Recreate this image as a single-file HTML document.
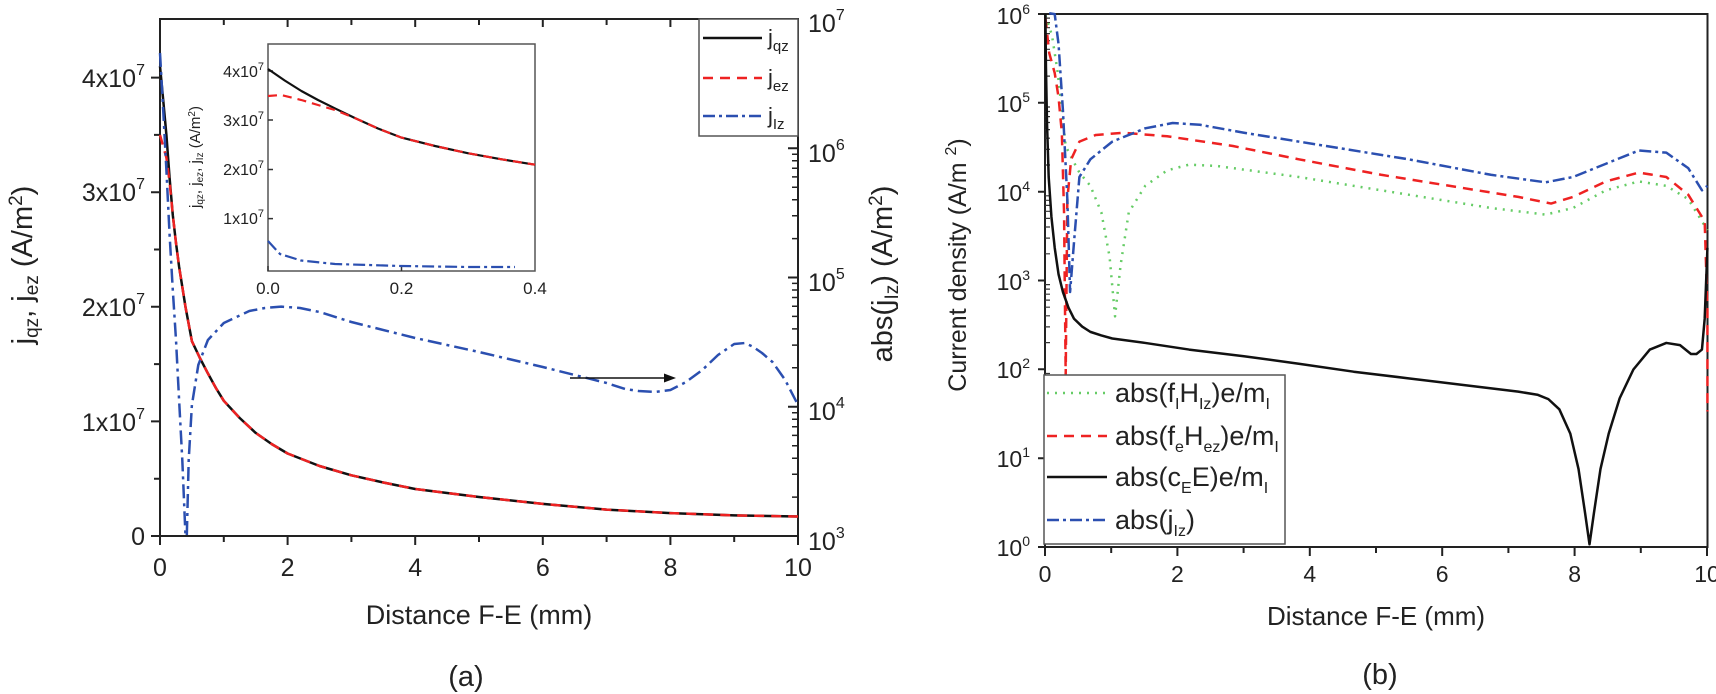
<!DOCTYPE html>
<html><head><meta charset="utf-8"><style>
html,body{margin:0;padding:0;background:#fff;}
svg{display:block;font-family:"Liberation Sans",sans-serif;}
</style></head><body>
<svg width="1716" height="694" viewBox="0 0 1716 694" xmlns="http://www.w3.org/2000/svg">
<!-- ===== LEFT PLOT ===== -->
<g fill="none" stroke="#222" stroke-width="2">
<rect x="160" y="19" width="638" height="517"/>
<path d="M160,536v9M287.6,536v9M415.2,536v9M542.8,536v9M670.4,536v9M798,536v9M223.8,536v6M351.4,536v6M479,536v6M606.6,536v6M734.2,536v6"/>
<path d="M223.8,19v6M351.4,19v6M479,19v6M606.6,19v6M734.2,19v6M287.6,19v8M415.2,19v8M542.8,19v8M670.4,19v8"/>
<path d="M160,536h-9M160,421.4h-9M160,306.8h-9M160,192.2h-9M160,77.6h-9M160,478.7h-6M160,364.1h-6M160,249.5h-6M160,134.9h-6"/>
<path d="M798,536h-10M798,406.75h-10M798,277.5h-10M798,148.25h-10M798,19h-10"/>
<path stroke-width="1.5" d="M798,497.1h-6M798,474.3h-6M798,458.2h-6M798,445.7h-6M798,435.4h-6M798,426.8h-6M798,419.3h-6M798,412.7h-6
M798,367.8h-6M798,345.1h-6M798,328.9h-6M798,316.4h-6M798,306.2h-6M798,297.5h-6M798,290h-6M798,283.4h-6
M798,238.6h-6M798,215.8h-6M798,199.7h-6M798,187.2h-6M798,176.9h-6M798,168.3h-6M798,160.8h-6M798,154.2h-6
M798,109.3h-6M798,86.6h-6M798,70.4h-6M798,57.9h-6M798,47.7h-6M798,39h-6M798,31.5h-6M798,24.9h-6"/>
</g>
<g font-size="25" fill="#222">
<text x="160" y="576" text-anchor="middle">0</text>
<text x="287.6" y="576" text-anchor="middle">2</text>
<text x="415.2" y="576" text-anchor="middle">4</text>
<text x="542.8" y="576" text-anchor="middle">6</text>
<text x="670.4" y="576" text-anchor="middle">8</text>
<text x="798" y="576" text-anchor="middle">10</text>
<g text-anchor="end">
<text x="145" y="545">0</text>
<text x="145" y="431">1x10<tspan font-size="16" dy="-12">7</tspan></text>
<text x="145" y="316">2x10<tspan font-size="16" dy="-12">7</tspan></text>
<text x="145" y="201">3x10<tspan font-size="16" dy="-12">7</tspan></text>
<text x="145" y="87">4x10<tspan font-size="16" dy="-12">7</tspan></text>
</g>
<text x="808" y="550">10<tspan font-size="16" dy="-12">3</tspan></text>
<text x="808" y="420">10<tspan font-size="16" dy="-12">4</tspan></text>
<text x="808" y="291">10<tspan font-size="16" dy="-12">5</tspan></text>
<text x="808" y="162">10<tspan font-size="16" dy="-12">6</tspan></text>
<text x="808" y="32">10<tspan font-size="16" dy="-12">7</tspan></text>
</g>
<text x="479" y="624" font-size="27" text-anchor="middle" fill="#222">Distance F-E (mm)</text>
<text x="466" y="686" font-size="29" text-anchor="middle" fill="#222">(a)</text>
<text transform="translate(32,265) rotate(-90)" font-size="29" text-anchor="middle" fill="#222">j<tspan font-size="19" dy="6">qz</tspan><tspan dy="-6">, j</tspan><tspan font-size="19" dy="6">ez</tspan><tspan dy="-6"> (A/m</tspan><tspan font-size="19" dy="-10">2</tspan><tspan dy="10">)</tspan></text>
<text transform="translate(892,274) rotate(-90)" font-size="29" text-anchor="middle" fill="#222">abs(j<tspan font-size="19" dy="6">Iz</tspan><tspan dy="-6">) (A/m</tspan><tspan font-size="19" dy="-10">2</tspan><tspan dy="10">)</tspan></text>

<polyline fill="none" stroke="#111" stroke-width="2.5" stroke-linejoin="round" points="160,66.1 163.2,100 166.4,134.9 169.6,178 172.8,215.1 176,243 179.1,266.7 185.5,307 191.9,341.2 199.9,358 207.9,373.4 215.9,388 223.8,400.8 239.7,418 255.7,432.9 271.6,444 287.6,453.5 319.5,466 351.4,475.3 383.3,482.5 415.2,489 479,497 542.8,503.9 606.6,509.6 670.4,513.1 734.2,515.4 798,516.5"/>
<polyline fill="none" stroke="#e22" stroke-width="2.5" stroke-dasharray="10,7" stroke-linejoin="round" points="160,134.9 166.4,157.8 169.6,182 172.8,215.1 176,243 179.1,266.7 185.5,307 191.9,341.2 199.9,358 207.9,373.4 215.9,388 223.8,400.8 239.7,418 255.7,432.9 271.6,444 287.6,453.5 319.5,466 351.4,475.3 383.3,482.5 415.2,489 479,497 542.8,503.9 606.6,509.6 670.4,513.1 734.2,515.4 798,516.5"/>
<polyline fill="none" stroke="#2b4fb0" stroke-width="2.5" stroke-dasharray="14,5,3,5" stroke-linejoin="round" points="160,53 163.2,110 166.4,170 169.6,235 172.8,290 176,340 179.1,400 182.3,460 185.5,536 186.8,536 188.7,460 191.9,405 198.3,365 207.9,340 223.8,323 249.3,311 265,308 281.2,306.6 300,308 319.5,312 351.4,322 415.2,338 479,352 542.8,367 606.6,383 625,389 638.5,391 655,392 670.4,390 686,382 702.3,370 718,355 734.2,344 745,343 753.3,347 762,353 772.5,362 785.2,380 798,405"/>
<line x1="570" y1="378" x2="668" y2="378" stroke="#111" stroke-width="1.5"/>
<polygon points="676,378 664,373.5 664,382.5" fill="#111"/>

<rect x="699" y="19" width="99" height="117" fill="#fff" stroke="#555" stroke-width="1.5"/>
<line x1="703" y1="38" x2="762" y2="38" stroke="#111" stroke-width="2.5"/>
<line x1="703" y1="78" x2="762" y2="78" stroke="#e22" stroke-width="2.5" stroke-dasharray="10,7"/>
<line x1="703" y1="116" x2="765" y2="116" stroke="#2b4fb0" stroke-width="2.5" stroke-dasharray="12,4,3,4"/>
<g font-size="22" fill="#222">
<text x="768" y="45">j<tspan font-size="15" dy="6">qz</tspan></text>
<text x="768" y="85">j<tspan font-size="15" dy="6">ez</tspan></text>
<text x="768" y="123">j<tspan font-size="15" dy="6">Iz</tspan></text>
</g>

<rect x="268" y="44" width="267" height="227" fill="#fff" stroke="#555" stroke-width="1.5"/>
<g stroke="#333" stroke-width="1.5"><path d="M268,71h5M268,120h5M268,169.5h5M268,218.6h5M401.5,271v-5M268,271v-5"/></g>
<g font-size="17" fill="#222">
<text x="268" y="294" text-anchor="middle">0.0</text>
<text x="401.5" y="294" text-anchor="middle">0.2</text>
<text x="535" y="294" text-anchor="middle">0.4</text>
<g text-anchor="end" font-size="16">
<text x="264" y="77">4x10<tspan font-size="11" dy="-7">7</tspan></text>
<text x="264" y="126">3x10<tspan font-size="11" dy="-7">7</tspan></text>
<text x="264" y="175">2x10<tspan font-size="11" dy="-7">7</tspan></text>
<text x="264" y="224">1x10<tspan font-size="11" dy="-7">7</tspan></text>
</g>
</g>
<text transform="translate(200,157) rotate(-90)" font-size="15" text-anchor="middle" fill="#222">j<tspan font-size="10" dy="3">qz</tspan><tspan dy="-3">, j</tspan><tspan font-size="10" dy="3">ez</tspan><tspan dy="-3">, j</tspan><tspan font-size="10" dy="3">Iz</tspan><tspan dy="-3"> (A/m</tspan><tspan font-size="10" dy="-5">2</tspan><tspan dy="5">)</tspan></text>
<polyline fill="none" stroke="#111" stroke-width="2.2" stroke-linejoin="round" points="268,69 284.7,80.5 301.4,91 318,100 334.8,108.3 354.8,118 378,128.5 401.5,137.6 435,146 468.3,153.3 501.6,159.3 535,164.7"/>
<polyline fill="none" stroke="#e22" stroke-width="2.2" stroke-dasharray="9,6" points="268,96 281,95 301.4,100 318,105 334.8,110 354.8,118 378,128.5 401.5,137.6 435,146 468.3,153.3 501.6,159.3 535,164.7"/>
<polyline fill="none" stroke="#2b4fb0" stroke-width="2.2" stroke-dasharray="12,4,3,4" points="268,241 280,254 301,260.5 335,264 401.5,266 468,267 515,267"/>

<!-- ===== RIGHT PLOT ===== -->
<g fill="none" stroke="#222" stroke-width="2">
<rect x="1045" y="14" width="662.5" height="533"/>
<path d="M1045,547v9M1177.4,547v9M1309.8,547v9M1442.2,547v9M1574.6,547v9M1707,547v9M1111.2,547v6M1243.6,547v6M1376,547v6M1508.4,547v6M1640.8,547v6"/>
<path d="M1045,547h-7M1045,458.2h-7M1045,369.3h-7M1045,280.5h-7M1045,191.7h-7M1045,102.8h-7M1045,14h-7"/>
</g>
<g fill="none" stroke="#333" stroke-width="1.2">
<path d="M1045,520.3h5M1045,504.6h5M1045,493.5h5M1045,484.9h5M1045,477.8h5M1045,471.9h5M1045,466.8h5M1045,462.3h5"/>
<path transform="translate(0,-88.8)" d="M1045,520.3h5M1045,504.6h5M1045,493.5h5M1045,484.9h5M1045,477.8h5M1045,471.9h5M1045,466.8h5M1045,462.3h5"/>
<path transform="translate(0,-177.7)" d="M1045,520.3h5M1045,504.6h5M1045,493.5h5M1045,484.9h5M1045,477.8h5M1045,471.9h5M1045,466.8h5M1045,462.3h5"/>
<path transform="translate(0,-266.5)" d="M1045,520.3h5M1045,504.6h5M1045,493.5h5M1045,484.9h5M1045,477.8h5M1045,471.9h5M1045,466.8h5M1045,462.3h5"/>
<path transform="translate(0,-355.3)" d="M1045,520.3h5M1045,504.6h5M1045,493.5h5M1045,484.9h5M1045,477.8h5M1045,471.9h5M1045,466.8h5M1045,462.3h5"/>
<path transform="translate(0,-444.2)" d="M1045,520.3h5M1045,504.6h5M1045,493.5h5M1045,484.9h5M1045,477.8h5M1045,471.9h5M1045,466.8h5M1045,462.3h5"/>
</g>
<g font-size="23" fill="#222">
<text x="1045" y="582" text-anchor="middle">0</text>
<text x="1177.4" y="582" text-anchor="middle">2</text>
<text x="1309.8" y="582" text-anchor="middle">4</text>
<text x="1442.2" y="582" text-anchor="middle">6</text>
<text x="1574.6" y="582" text-anchor="middle">8</text>
<text x="1707" y="582" text-anchor="middle">10</text>
<g text-anchor="end">
<text x="1030" y="556">10<tspan font-size="14" dy="-10">0</tspan></text>
<text x="1030" y="467">10<tspan font-size="14" dy="-10">1</tspan></text>
<text x="1030" y="378">10<tspan font-size="14" dy="-10">2</tspan></text>
<text x="1030" y="290">10<tspan font-size="14" dy="-10">3</tspan></text>
<text x="1030" y="201">10<tspan font-size="14" dy="-10">4</tspan></text>
<text x="1030" y="112">10<tspan font-size="14" dy="-10">5</tspan></text>
<text x="1030" y="24">10<tspan font-size="14" dy="-10">6</tspan></text>
</g>
</g>
<text x="1376" y="625" font-size="26" text-anchor="middle" fill="#222">Distance F-E (mm)</text>
<text x="1380" y="684" font-size="29" text-anchor="middle" fill="#222">(b)</text>
<text transform="translate(966,265) rotate(-90)" font-size="25" text-anchor="middle" fill="#222">Current density (A/m <tspan font-size="16" dy="-10">2</tspan><tspan dy="10">)</tspan></text>

<g transform="translate(860,0) scale(0.5485,0.4425)" fill="none" stroke-width="2.5" stroke-linejoin="round">
<polyline vector-effect="non-scaling-stroke" stroke="#6c6" stroke-dasharray="2,6" points="338,35 350,80 360,160 368,250 375,330 385,355 400,390 420,420 440,480 455,580 465,715 475,600 490,480 520,420 560,385 600,372 650,375 800,400 1000,440 1150,470 1250,485 1300,470 1360,430 1420,410 1470,420 1510,450 1545,520"/>
<polyline vector-effect="non-scaling-stroke" stroke="#e22" stroke-dasharray="10,7" points="338,40 345,120 355,165 362,220 368,300 372,480 375,850 378,450 385,360 400,320 430,305 480,300 560,308 680,330 800,360 950,395 1100,425 1200,445 1260,460 1300,445 1360,410 1420,390 1470,400 1510,440 1540,500 1545,700 1545,930"/>
<polyline vector-effect="non-scaling-stroke" stroke="#111" points="338,32 339,150 341,280 344,400 349,490 355,560 362,620 370,660 380,695 390,720 405,738 420,750 440,758 460,765 520,775 600,790 700,805 800,822 900,840 1000,855 1100,870 1200,885 1235,892 1255,902 1275,925 1295,980 1310,1060 1322,1160 1330,1230 1338,1160 1350,1060 1365,980 1385,900 1410,835 1440,790 1470,775 1495,780 1515,800 1525,800 1535,790 1540,720 1545,560"/>
<polyline vector-effect="non-scaling-stroke" stroke="#2b4fb0" stroke-dasharray="12,4,3,4" points="345,30 355,32 362,100 370,250 378,450 383,660 390,550 400,400 420,360 460,320 520,290 570,278 620,282 700,300 850,330 1000,360 1150,395 1250,412 1300,400 1360,370 1420,340 1470,345 1510,380 1535,430 1545,420"/>
</g>

<rect x="1044" y="375" width="241" height="169" fill="#fff" stroke="#555" stroke-width="1.5"/>
<line x1="1047" y1="393" x2="1107" y2="393" stroke="#6c6" stroke-width="2.5" stroke-dasharray="2,6"/>
<line x1="1047" y1="436" x2="1107" y2="436" stroke="#e22" stroke-width="2.5" stroke-dasharray="10,7"/>
<line x1="1047" y1="477" x2="1107" y2="477" stroke="#111" stroke-width="2.5"/>
<line x1="1047" y1="520" x2="1107" y2="520" stroke="#2b4fb0" stroke-width="2.5" stroke-dasharray="12,4,3,4"/>
<g font-size="27" fill="#222">
<text x="1115" y="402">abs(f<tspan font-size="16" dy="7">I</tspan><tspan dy="-7">H</tspan><tspan font-size="16" dy="7">Iz</tspan><tspan dy="-7">)e/m</tspan><tspan font-size="16" dy="7">I</tspan></text>
<text x="1115" y="445">abs(f<tspan font-size="16" dy="7">e</tspan><tspan dy="-7">H</tspan><tspan font-size="16" dy="7">ez</tspan><tspan dy="-7">)e/m</tspan><tspan font-size="16" dy="7">I</tspan></text>
<text x="1115" y="486">abs(c<tspan font-size="16" dy="7">E</tspan><tspan dy="-7">E)e/m</tspan><tspan font-size="16" dy="7">I</tspan></text>
<text x="1115" y="529">abs(j<tspan font-size="16" dy="7">Iz</tspan><tspan dy="-7">)</tspan></text>
</g>
</svg>
</body></html>
